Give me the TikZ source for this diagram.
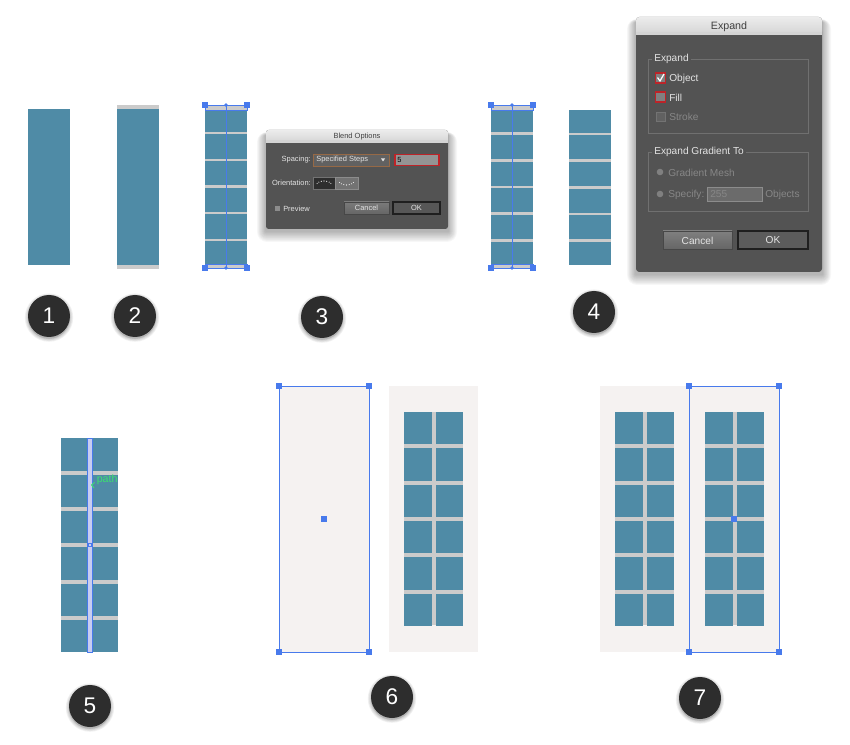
\documentclass[tikz,border=0pt]{standalone}
\usepackage{fontspec}
\setmainfont{Liberation Sans}
\usetikzlibrary{calc}
\definecolor{tile}{RGB}{79,139,166}
\definecolor{gapc}{RGB}{203,203,203}
\definecolor{selb}{RGB}{72,122,236}
\definecolor{paper}{RGB}{245,242,241}
\definecolor{dlg}{RGB}{83,83,83}
\definecolor{dlgtext}{RGB}{228,228,228}
\definecolor{dimtext}{RGB}{135,135,135}
\definecolor{titletop}{RGB}{236,236,236}
\definecolor{titlebot}{RGB}{212,212,212}
\definecolor{boxline}{RGB}{112,112,112}
\definecolor{redc}{RGB}{190,35,40}
\definecolor{numc}{RGB}{45,45,45}
\definecolor{pathg}{RGB}{60,225,110}
\definecolor{lav}{RGB}{200,205,240}
\newcommand\hdl[2]{\fill[selb] (#1-2.6,#2-2.6) rectangle (#1+2.6,#2+2.6);}
\newcommand\mygrid[1]{%
  \fill[gapc] (#1,412) rectangle ++(59,213);
  \foreach \r in {0,...,5}{%
    \fill[tile] (#1,412+36.3*\r) rectangle ++(27.5,32.3);
    \fill[tile] (#1+31.5,412+36.3*\r) rectangle ++(27.5,32.3);}}
\newcommand\dlgshadow[4]{%
  \foreach \k in {1,...,10}{%
    \fill[black, opacity=0.03, rounded corners={\k*0.75pt}] (#1-\k*0.9,#2-\k*0.3+5) rectangle (#3+\k*0.9,#4+\k*1.1+2);}}
\newcommand\numshadow[1]{%
  \foreach \k in {1,...,4}{\fill[black, opacity=0.05] ($(#1)+(0,1.6)$) circle ({21+0.8*\k});}%
  \fill[black, opacity=0.12] ($(#1)+(0,1.8)$) circle (21);}
\tikzset{
  numcircle/.style={circle, fill=numc, minimum size=31.5pt, inner sep=0pt, text=white,
     font=\fontsize{17}{17}\selectfont},
  btxt/.style={inner sep=0pt, text=dlgtext, font=\fontsize{5.6}{6}\selectfont},
  etxt/.style={inner sep=0pt, text=dlgtext, font=\fontsize{7.6}{9}\selectfont},
  edim/.style={etxt, text=dimtext},
  grouplabel/.style={etxt, fill=dlg, inner xsep=1.5pt, inner ysep=1pt, anchor=west},
}
\begin{document}
\begin{tikzpicture}[x=0.75pt,y=-0.75pt]
\useasboundingbox (0,0) rectangle (850,745);
\fill[white] (0,0) rectangle (850,745);

% ---------- 1 ----------
\fill[tile] (28,109) rectangle (70,265);
% ---------- 2 ----------
\fill[gapc] (117,105) rectangle (159,269);
\fill[tile] (117,109) rectangle (159,265);

% ---------- 3 ----------
\fill[gapc] (205,105) rectangle (247,268);
\fill[tile] (205,110) rectangle (247,264);
\foreach \c in {133,160,186.5,213,240}{\fill[gapc] (205,\c-1.3) rectangle (247,\c+1.3);}
\draw[selb, line width=0.6pt] (205,105) rectangle (247,110);
\draw[selb, line width=0.6pt] (205,264) rectangle (247,268);
\draw[selb, line width=0.6pt] (226,105) -- (226,268);
\hdl{205}{105}\hdl{247}{105}\hdl{205}{268}\hdl{247}{268}
\fill[selb] (226,105) circle (1.8); \fill[selb] (226,268) circle (1.8);

% Blend options dialog
\dlgshadow{266}{130}{448}{229}
\fill[dlg, rounded corners=2pt] (266,130) rectangle (448,229);
\shade[top color=titletop, bottom color=titlebot, rounded corners=2pt] (266,130) rectangle (448,143);
\fill[titlebot] (266,140) rectangle (448,143);
\node[btxt, text=black!75] (bt) at (357,136.5) {Blend Options};
\node[btxt, anchor=east] (bsp) at (311,160) {Spacing:};
\draw[fill=black!62, draw={rgb,255:red,150;green,105;blue,70}, line width=0.7pt] (313,154) rectangle (389,166);
\node[btxt, anchor=west] (bss) at (316,160) {Specified Steps};
\fill[dlgtext] (381,158.5) -- (385,158.5) -- (383,161.5) -- cycle;
\draw[fill=black!42, draw=redc, line width=1pt] (395,154.5) rectangle (439,165.5);
\node[btxt, text=black, anchor=west] (b5) at (397,160) {5};
\node[btxt, anchor=east] (bor) at (311,182.5) {Orientation:};
\draw[fill=black!82, draw=black!55, line width=0.4pt] (313,177) rectangle (335,189);
\draw[fill=black!55, draw=black!45, line width=0.4pt] (335,177) rectangle (358,189);
\foreach \a in {-60,-40,...,60}{%
  \fill[white] ({324+8*sin(\a)},{186-5*cos(\a)}) circle (0.55);
  \fill[white] ({346.5+8*sin(\a)},{180+5*cos(\a)}) circle (0.55);}
\fill[black!45] (275,206) rectangle (280,211);
\node[btxt, anchor=west] (bpv) at (283,208.5) {Preview};
\shade[top color=black!52, bottom color=black!60, draw=black!72, line width=0.4pt] (344,202) rectangle (389,214);
\node[btxt] (bc) at (366.5,208) {Cancel};
\draw[fill=black!66, draw=black!88, line width=0.9pt] (393,202) rectangle (440,214);
\node[btxt] (bok) at (416.5,208) {OK};

% ---------- 4 ----------
\fill[gapc] (491,105) rectangle (533,268);
\fill[tile] (491,110) rectangle (533,264);
\foreach \c in {133.5,160.5,187,213.5,240.5}{\fill[gapc] (491,\c-1.3) rectangle (533,\c+1.3);}
\draw[selb, line width=0.6pt] (491,105) rectangle (533,110);
\draw[selb, line width=0.6pt] (491,264) rectangle (533,268);
\draw[selb, line width=0.6pt] (512,105) -- (512,268);
\hdl{491}{105}\hdl{533}{105}\hdl{491}{268}\hdl{533}{268}
\fill[selb] (512,105) circle (1.8); \fill[selb] (512,268) circle (1.8);

\fill[tile] (569,110) rectangle (611,265);
\foreach \c in {134,160.7,187.3,214,240.7}{\fill[gapc] (569,\c-1.3) rectangle (611,\c+1.3);}

% Expand dialog
\dlgshadow{636}{17}{822}{272}
\fill[dlg, rounded corners=2.5pt] (636,17) rectangle (822,272);
\shade[top color=titletop, bottom color=titlebot, rounded corners=2.5pt] (636,17) rectangle (822,35);
\fill[titlebot] (636,32) rectangle (822,35);
\node[etxt, text=black!75, font=\fontsize{8}{9}\selectfont] (et) at (729,26.5) {Expand};
\draw[boxline, line width=0.5pt] (648,59) rectangle (808,133);
\node[grouplabel] (eg1) at (652,59) {Expand};
\draw[fill=black!50, draw=redc, line width=1.1pt] (655.5,73) rectangle (665.5,83);
\draw[white, line width=0.9pt] (657.5,77.5) -- (660,81) -- (664,74);
\node[etxt, anchor=west] (eobj) at (669,78.5) {Object};
\draw[fill=black!50, draw=redc, line width=1.1pt] (655.5,92) rectangle (665.5,102);
\node[etxt, anchor=west] (efill) at (669,97.5) {Fill};
\draw[fill=black!62, draw=black!55, line width=0.5pt] (656,112) rectangle (665,121);
\node[edim, anchor=west] (estr) at (669,117) {Stroke};
\draw[boxline, line width=0.5pt] (648,152) rectangle (808,211);
\node[grouplabel] (eg2) at (652,152) {Expand Gradient To};
\fill[black!50] (660,172) circle (3.3);
\node[edim, anchor=west] (egm) at (668,172.5) {Gradient Mesh};
\fill[black!50] (660,194) circle (3.3);
\node[edim, anchor=west] (esp) at (668,194.5) {Specify:};
\draw[fill=black!58, draw=black!45, line width=0.5pt] (707,187) rectangle (762,201);
\node[edim, anchor=west] (e255) at (710,194.5) {255};
\node[edim, anchor=west] (eob) at (765,194.5) {Objects};
\shade[top color=black!50, bottom color=black!60, draw=black!72, line width=0.5pt] (663,231) rectangle (732,249);
\node[etxt] (ec) at (697.5,240.5) {Cancel};
\draw[fill=black!64, draw=black!88, line width=1pt] (738,231) rectangle (808,249);
\node[etxt] (eok) at (773,240.5) {OK};

% ---------- 5 ----------
\fill[tile] (61,438) rectangle (118,652);
\foreach \c in {472.7,509,545,581.7,617.7}{\fill[gapc] (61,\c-2) rectangle (118,\c+2);}
\draw[selb, fill=lav, line width=0.6pt] (87,438) rectangle (92,652);
\draw[selb, line width=0.5pt] (88,543.5) rectangle (91,546.5);
\node[inner sep=0pt, text=pathg, font=\fontsize{8}{8}\selectfont, anchor=west] (pl) at (96.5,479.5) {path};
\draw[pathg, line width=0.7pt] (94.5,482.5) -- (91.5,485) -- (94,488);

% ---------- 6 ----------
\fill[paper] (279,386) rectangle (369,652);
\draw[selb, line width=0.7pt] (279,386) rectangle (369,652);
\hdl{279}{386}\hdl{369}{386}\hdl{279}{652}\hdl{369}{652}\hdl{324}{519}
\fill[paper] (389,386) rectangle (478,652);
\mygrid{404}

% ---------- 7 ----------
\fill[paper] (600,386) rectangle (690,652);
\mygrid{615}
\fill[paper] (689,386) rectangle (779,652);
\mygrid{705}
\draw[selb, line width=0.7pt] (689,386) rectangle (779,652);
\hdl{689}{386}\hdl{779}{386}\hdl{689}{652}\hdl{779}{652}\hdl{734}{519}

% ---------- numbers ----------
\coordinate (c1) at (49,316);
\coordinate (c2) at (135,316);
\coordinate (c3) at (322,317);
\coordinate (c4) at (594,312);
\coordinate (c5) at (90,706);
\coordinate (c6) at (392,697);
\coordinate (c7) at (700,698);
\foreach \i in {1,...,7}{\numshadow{c\i}}
\node[numcircle] (n1) at (c1) {1};
\node[numcircle] (n2) at (c2) {2};
\node[numcircle] (n3) at (c3) {3};
\node[numcircle] (n4) at (c4) {4};
\node[numcircle] (n5) at (c5) {5};
\node[numcircle] (n6) at (c6) {6};
\node[numcircle] (n7) at (c7) {7};
\end{tikzpicture}
\end{document}
